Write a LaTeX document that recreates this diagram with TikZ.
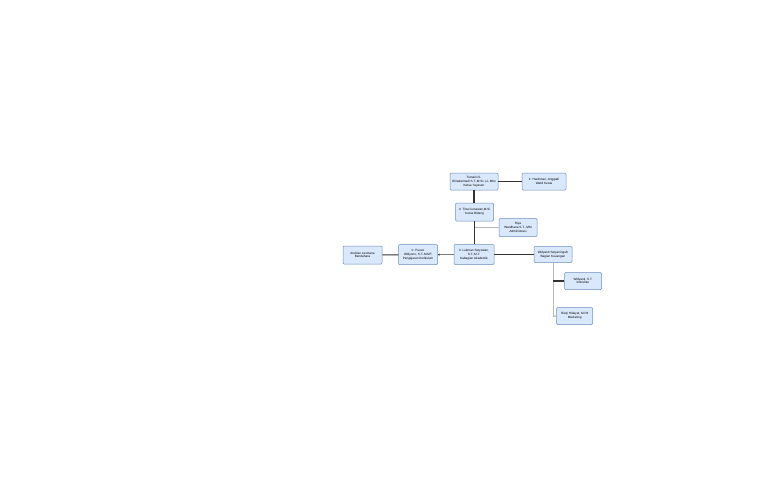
\documentclass[tikz,border=0pt]{standalone}
\usepackage{fontspec}
\setmainfont{Liberation Sans}
\usepackage{xcolor}
\definecolor{org-hellblau}{HTML}{DAE8FC}
\definecolor{org-rand}{HTML}{6C8EBF}
\definecolor{org-dunkel}{HTML}{333333}
\definecolor{org-grau}{HTML}{B8B8B8}
\usetikzlibrary{arrows.meta}

\begin{document}
\begin{tikzpicture}[x=1pt,y=-1pt,
    person/.style={draw=org-rand,fill=org-hellblau,rounded corners=1pt,line width=0.5pt,
      align=center,inner sep=0.5pt,font=\fontsize{3.1}{3.7}\selectfont},
    strich/.style={draw=org-dunkel,line width=1.1pt},
    duenn/.style={draw=org-grau,line width=0.7pt}]
    \fill[white] (0,0) rectangle (768,492);
    \useasboundingbox (0,0) rectangle (768,492);
    % Boxen
    \node[person,minimum width=48,minimum height=17] (ketua) at (474,181.5) {Tumaini S.\\Wiradarmadi S.T.,M.Sc.,LL.Mkn\\Ketua Yayasan};
    \node[person,minimum width=44,minimum height=17] (wakil) at (544,181.5) {Ir. Hardiman, Anggadi\\Wakil Ketua};
    \node[person,minimum width=38,minimum height=18] (bidang) at (474.5,212) {Ir. Tirta Gunawan,M.Si\\Ketua Bidang};
    \node[person,minimum width=38,minimum height=18] (admin) at (518,227.5) {Riya\\Wardhana S.T., MM\\Administrasi};
    \node[person,minimum width=40,minimum height=20] (kabag) at (474,254.5) {Ir. Lukman Setyawan,\\S.T.,M.T.\\Kabagian Akademik};
    \node[person,minimum width=39,minimum height=20] (pengajaran) at (418,254.7) {Ir. Purwo\\Widyono, S.T.,M.MT\\Pengajaran Kurikulum};
    \node[person,minimum width=39,minimum height=18] (bendahara) at (362.5,255) {Andrian Lesmana\\Bendahara};
    \node[person,minimum width=38,minimum height=16] (keuangan) at (553,254.5) {Widyanti Setyaningsih\\Bagian Keuangan};
    \node[person,minimum width=37,minimum height=17] (instruktur) at (583,281) {Widyanti, S.T.\\Instruktur};
    \node[person,minimum width=36,minimum height=17] (marketing) at (574.7,316) {Rizqi Hidayat, M.Pd\\Marketing};
    % Verbindungen
    \draw[strich] (ketua) -- (wakil);
    \draw[strich] (ketua.south) -- (ketua.south |- bidang.north);
    \draw[strich] (bidang.south) -- (bidang.south |- kabag.north);
    \draw[duenn] (admin.west) -- (admin.west -| bidang.south);
    \draw[strich] (bendahara) -- (pengajaran);
    \draw[draw=org-dunkel,line width=0.4pt,-{Stealth[length=2pt,width=2pt]}] (kabag) -- (pengajaran);
    \draw[strich] (kabag) -- (keuangan);
    \draw[duenn,-{Stealth[length=2pt,width=2pt]}] (keuangan.south) |- (marketing.west);
    \draw[strich] (instruktur.west) -- (instruktur.west -| keuangan.south);
\end{tikzpicture}
\end{document}
